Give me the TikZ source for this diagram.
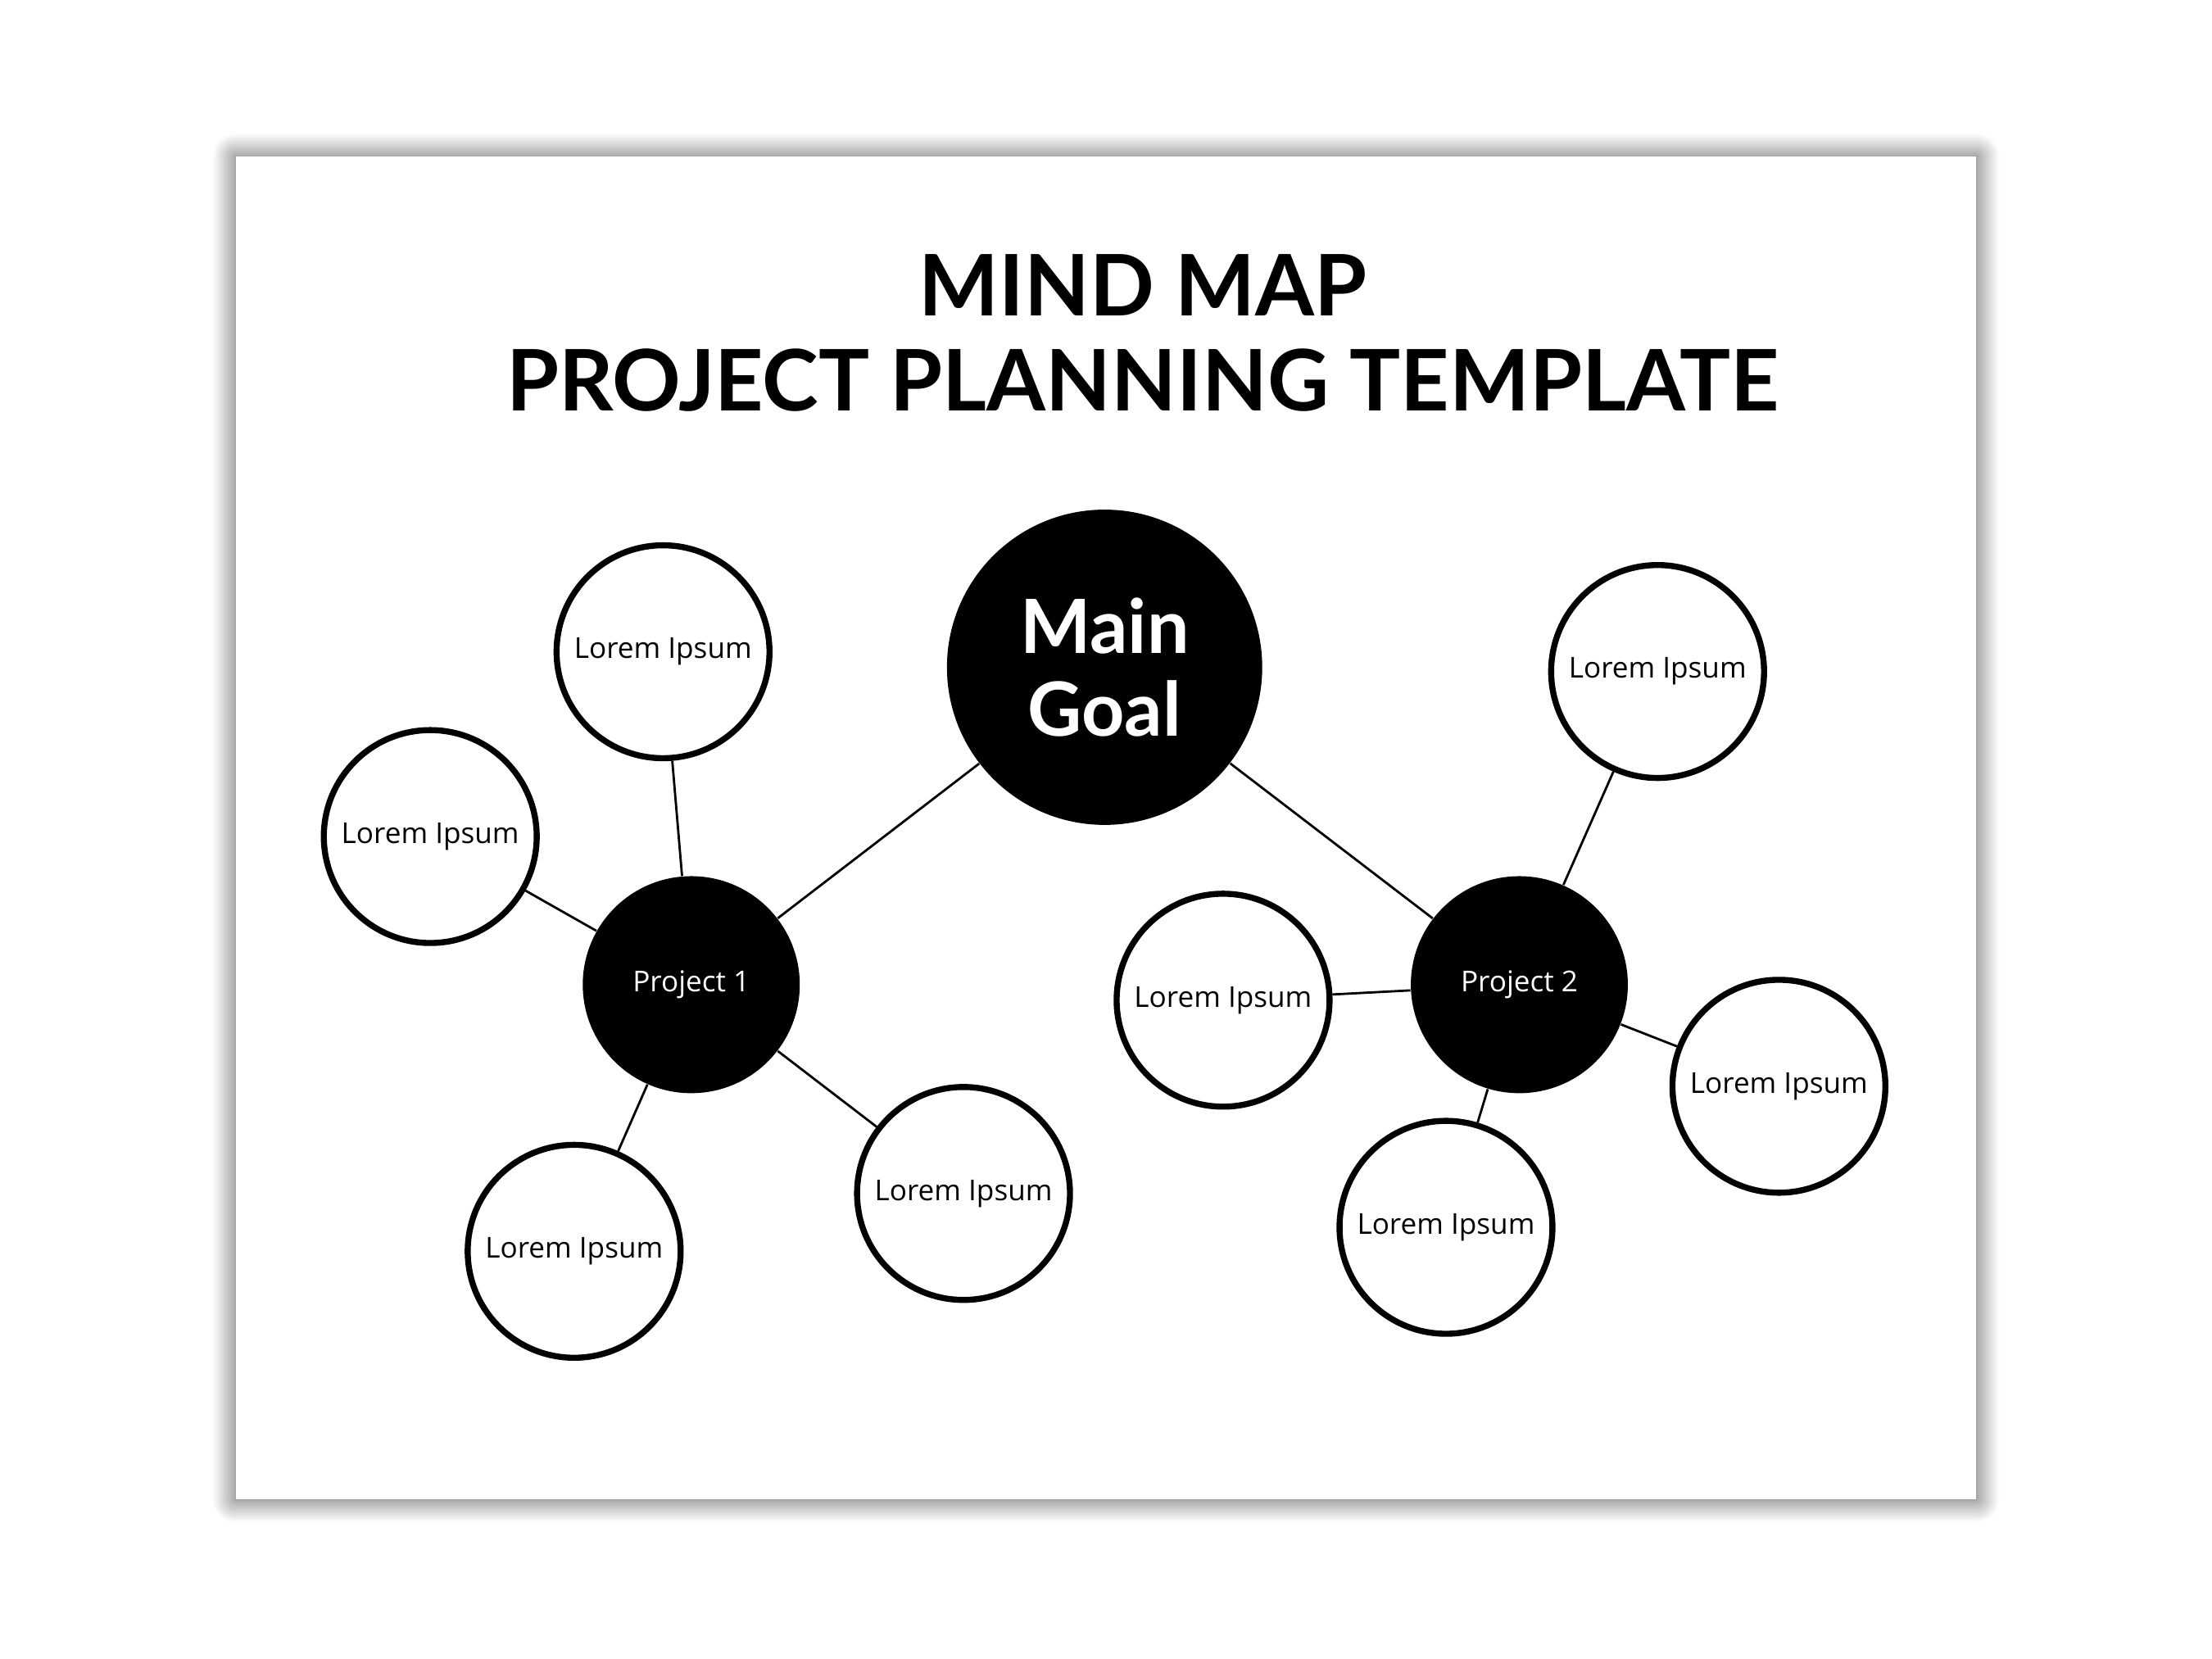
\documentclass[tikz,border=0pt]{standalone}
\usepackage{fontspec}
\setmainfont{Open Sans}
\newfontfamily\lato{Lato}
\usetikzlibrary{shadows.blur}
\begin{document}
\begin{tikzpicture}[x=0.01722cm,y=-0.01722cm,
  sub/.style={circle,draw=black,line width=2.1pt,fill=white,minimum size=2.6cm,inner sep=0pt,font=\fontsize{10}{12}\selectfont},
  proj/.style={circle,fill=black,text=white,minimum size=2.65cm,inner sep=0pt,font=\fontsize{10}{12}\selectfont},
  link/.style={line width=0.8pt}]
\useasboundingbox (0,0) rectangle (1568,1176);
\fill[white,blur shadow={shadow xshift=0pt,shadow yshift=0pt,shadow blur radius=8pt,shadow blur steps=12,shadow opacity=70}] (167,111) rectangle (1401,1063);
\node[font=\lato\bfseries\fontsize{29.5}{33}\selectfont,align=center] (title) at (810,236) {MIND MAP\\PROJECT PLANNING TEMPLATE};
\node[circle,fill=black,text=white,minimum size=3.85cm,inner sep=0pt,align=center,font=\lato\bfseries\fontsize{26}{29}\selectfont] (main) at (783,473) {Main\\Goal};
\node[proj] (p1) at (490,698) {Project 1};
\node[proj] (p2) at (1077,698) {Project 2};
\node[sub] (a1) at (470,462) {Lorem Ipsum};
\node[sub] (a2) at (305,593) {Lorem Ipsum};
\node[sub] (a3) at (407,887) {Lorem Ipsum};
\node[sub] (a4) at (683,846) {Lorem Ipsum};
\node[sub] (b1) at (1175,476) {Lorem Ipsum};
\node[sub] (b2) at (867,709) {Lorem Ipsum};
\node[sub] (b3) at (1025,870) {Lorem Ipsum};
\node[sub] (b4) at (1261,770) {Lorem Ipsum};
\foreach \a/\b in {main/p1,main/p2,p1/a1,p1/a2,p1/a3,p1/a4,p2/b1,p2/b2,p2/b3,p2/b4}
  \draw[link] (\a) -- (\b);
\end{tikzpicture}
\end{document}
